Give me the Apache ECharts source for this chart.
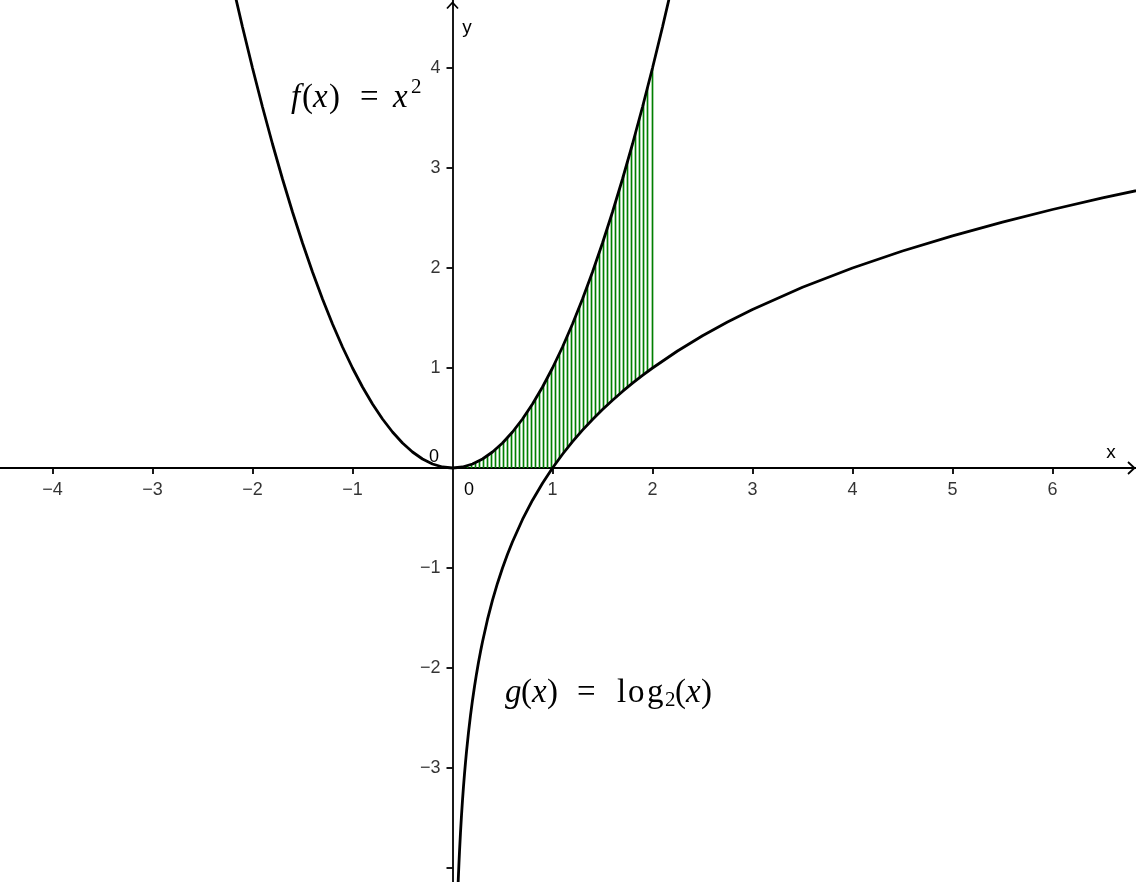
<!DOCTYPE html>
<html><head><meta charset="utf-8">
<script src="https://cdn.jsdelivr.net/npm/echarts@6/dist/echarts.min.js"></script>
<style>html,body{margin:0;padding:0;background:#fff}#c{width:1136px;height:882px}</style>
</head><body><div id="c"></div>
<script>
// ---- data ----
const fX = [-2.2,-2.1,-2.0,-1.9,-1.8,-1.7,-1.6,-1.5,-1.4,-1.3,-1.2,-1.1,-1.0,-0.9,-0.8,-0.7,-0.6,-0.5,-0.4,-0.3,-0.2,-0.1,0,
            0.1,0.2,0.3,0.4,0.5,0.6,0.7,0.8,0.9,1.0,1.1,1.2,1.3,1.4,1.5,1.6,1.7,1.8,1.9,2.0,2.1,2.2];
const fY = [4.84,4.41,4,3.61,3.24,2.89,2.56,2.25,1.96,1.69,1.44,1.21,1,0.81,0.64,0.49,0.36,0.25,0.16,0.09,0.04,0.01,0,
            0.01,0.04,0.09,0.16,0.25,0.36,0.49,0.64,0.81,1,1.21,1.44,1.69,1.96,2.25,2.56,2.89,3.24,3.61,4,4.41,4.84];
const gX = [0.056,0.06,0.065,0.07,0.08,0.09,0.1,0.11,0.12,0.13,0.14,0.16,0.18,0.2,0.22,0.24,0.26,0.28,0.3,0.35,0.4,0.45,0.5,0.55,0.6,
            0.7,0.8,0.9,1.0,1.1,1.2,1.3,1.4,1.5,1.6,1.7,1.8,1.9,2.0,2.25,2.5,2.75,3,3.5,4,4.5,5,5.5,6,6.5,7];
const gY = [-4.1585,-4.0589,-3.9434,-3.8365,-3.6439,-3.4739,-3.3219,-3.1844,-3.0589,-2.9434,-2.8365,-2.6439,-2.4739,-2.3219,-2.1844,-2.0589,-1.9434,-1.8365,-1.7370,-1.5146,-1.3219,-1.1520,-1,-0.8625,-0.7370,
            -0.5146,-0.3219,-0.1520,0,0.1375,0.2630,0.3785,0.4854,0.5850,0.6781,0.7655,0.8480,0.9260,1,1.1699,1.3219,1.4594,1.5850,1.8074,2,2.1699,2.3219,2.4594,2.5850,2.7004,2.8074];
const xTicks = [-4,-3,-2,-1,1,2,3,4,5,6];
const yTicks = [-4,-3,-2,-1,1,2,3,4];
const yTickLabels = [-3,-2,-1,1,2,3,4];
const hatchFrom = 0, hatchTo = 2;

// ---- build ----
const X_MIN = -4.525, X_MAX = 6.835, Y_MIN = -4.14, Y_MAX = 4.68;
const fData = fX.map((x,i)=>[x,fY[i]]);
const gData = gX.map((x,i)=>[x,gY[i]]);
const topEdge = fData.filter(p=>p[0]>=hatchFrom && p[0]<=hatchTo);
const botEdge = gData.filter(p=>p[0]>=hatchFrom && p[0]<=hatchTo && p[1]>=0).reverse();
const regionPoly = topEdge.concat(botEdge);
const minus = v => String(v).replace('-', '\u2212');
const HATCH = '#007f00';
const SANS = 'Liberation Sans';

const chart = echarts.init(document.getElementById('c'), null, {renderer:'canvas'});
const axisStyle = {color:'#000', width:1.8};
const tickLabel = {show:true,color:'#000',fontSize:18,fontFamily:SANS};
chart.setOption({
  animation:false,
  backgroundColor:'#fff',
  grid:{left:0,right:0,top:0,bottom:0,containLabel:false,outerBoundsMode:'none'},
  xAxis:{type:'value',min:X_MIN,max:X_MAX,
    axisLine:{onZero:true,lineStyle:axisStyle},
    axisTick:{show:true,length:6,lineStyle:axisStyle,customValues:xTicks},
    axisLabel:{show:false},
    splitLine:{show:false}},
  yAxis:{type:'value',min:Y_MIN,max:Y_MAX,
    axisLine:{onZero:true,lineStyle:axisStyle},
    axisTick:{show:true,length:6,lineStyle:axisStyle,customValues:yTicks},
    axisLabel:{show:false},
    splitLine:{show:false}},
  series:[
    {type:'custom',z:1,silent:true,data:[[hatchFrom,0]],
     renderItem:function(params,api){
       const poly = regionPoly.map(p=>api.coord(p));
       const x0 = api.coord([hatchFrom,0])[0], x1 = api.coord([hatchTo,0])[0];
       const children = [];
       const step = 4;
       for (let x = Math.round(x0) + 2.5; x < x1 - 1; x += step) {
         const ys = [];
         for (let i=0;i<poly.length;i++){
           const a = poly[i], b = poly[(i+1)%poly.length];
           if ((a[0] <= x && b[0] > x) || (b[0] <= x && a[0] > x)) {
             const t = (x - a[0])/(b[0]-a[0]);
             ys.push(a[1] + t*(b[1]-a[1]));
           }
         }
         ys.sort((p,q)=>p-q);
         for (let k=0;k+1<ys.length;k+=2)
           children.push({type:'line',shape:{x1:x,y1:ys[k],x2:x,y2:ys[k+1]},style:{stroke:HATCH,lineWidth:1.7}});
       }
       const pt = api.coord(topEdge[topEdge.length-1]), pb = api.coord(botEdge[0]);
       children.push({type:'line',shape:{x1:pt[0],y1:pt[1],x2:pb[0],y2:pb[1]},style:{stroke:HATCH,lineWidth:1.7}});
       return {type:'group',children};
     }},
    {type:'line',z:3,data:fData,showSymbol:false,silent:true,lineStyle:{color:'#000',width:2.8}},
    {type:'line',z:3,data:gData,showSymbol:false,silent:true,lineStyle:{color:'#000',width:2.8}},
    {type:'scatter',z:5,silent:true,symbolSize:0,data:xTicks.map(v=>[v,0]),
     label:Object.assign({},tickLabel,{position:'bottom',distance:13,formatter:p=>minus(p.value[0])})},
    {type:'scatter',z:5,silent:true,symbolSize:0,data:yTickLabels.map(v=>[0,v]),
     label:Object.assign({},tickLabel,{position:'left',distance:12,formatter:p=>minus(p.value[1])})}
  ]
});

// ---- decorations via the chart's own scales ----
const px = p => chart.convertToPixel({gridIndex:0}, p);
const o = px([0,0]);
const xe = px([X_MAX,0]);
const ye = px([0,Y_MAX]);
const fA = px([-1.645, 3.59]);
const gA = px([0.525, -2.36]);
const SERIF = 'Liberation Serif';
function piece(anchor, text, dx, dBase, size, italic) {
  return {type:'text', silent:true, z:100,
    x: anchor[0] + dx, y: anchor[1] + dBase - 0.3375*size,
    style:{text:text, fill:'#000', font:(italic?'italic ':'') + size + 'px "' + SERIF + '"',
           align:'left', verticalAlign:'middle'}};
}
const sans = (text, x, y, size) => ({type:'text',silent:true,z:100,x:x,y:y,
  style:{text:text,fill:'#000',font:size+'px "'+SANS+'"',align:'center',verticalAlign:'middle'}});

chart.setOption({graphic:[
  {type:'polyline',silent:true,z:100,shape:{points:[[xe[0]-8,o[1]-6],[xe[0]-1.5,o[1]],[xe[0]-8,o[1]+6]]},style:{stroke:'#000',lineWidth:1.8,fill:null}},
  {type:'polyline',silent:true,z:100,shape:{points:[[o[0]-5.5,ye[1]+8.5],[o[0],ye[1]+2.5],[o[0]+5.5,ye[1]+8.5]]},style:{stroke:'#000',lineWidth:1.8,fill:null}},
  sans('x', xe[0]-25, o[1]-15, 19),
  sans('y', o[0]+14.5, ye[1]+28, 19),
  sans('0', o[0]-18.5, o[1]-11, 18),
  sans('0', o[0]+16.5, o[1]+22, 18),
  // f(x) = x^2
  piece(fA,'f',3,0,33,true),
  piece(fA,'(',14,0,33,false),
  piece(fA,'x',25,0,33,true),
  piece(fA,')',41,0,33,false),
  piece(fA,'=',72,0,33,false),
  piece(fA,'x',105,0,33,true),
  piece(fA,'2',123,-14,21,false),
  // g(x) = log2(x)
  piece(gA,'g',0,0,33,true),
  piece(gA,'(',16,0,33,false),
  piece(gA,'x',27,0,33,true),
  piece(gA,')',42,0,33,false),
  piece(gA,'=',72,0,33,false),
  piece(gA,'l',112,0,33,false),
  piece(gA,'o',123,0,33,false),
  piece(gA,'g',142,0,33,false),
  piece(gA,'2',160,4,21,false),
  piece(gA,'(',170,0,33,false),
  piece(gA,'x',181,0,33,true),
  piece(gA,')',196,0,33,false)
]});
</script>
</body></html>
